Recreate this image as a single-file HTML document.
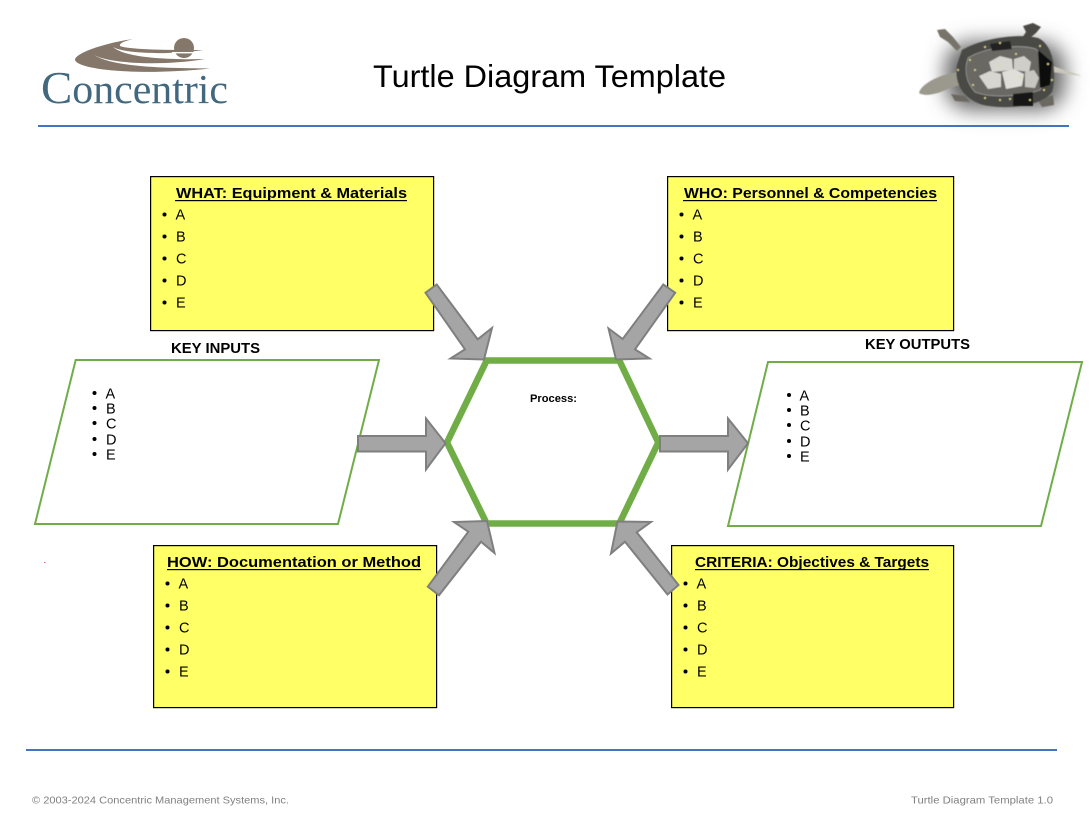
<!DOCTYPE html>
<html lang="en"><head><meta charset="utf-8"><title>Turtle Diagram Template</title>
<style>
html,body{margin:0;padding:0;background:#fff;width:1090px;height:824px;overflow:hidden}
svg{display:block}
text{font-family:"Liberation Sans",sans-serif;fill:#000}
.h{font-weight:bold;font-size:15px}
.l{font-size:14.5px}
.s{font-size:14.5px}
.f{font-size:10.5px;fill:#808080}
.a{fill:#a5a5a5;stroke:#7f7f7f;stroke-width:2}
.y{fill:#ffff66;stroke:#000;stroke-width:1.2}
.p{fill:#fff;stroke:#70ad47;stroke-width:2}
</style></head><body>
<svg width="1090" height="824" viewBox="0 0 1090 824" xmlns="http://www.w3.org/2000/svg">
<defs>
<filter id="b" x="-40%" y="-60%" width="180%" height="220%"><feGaussianBlur stdDeviation="10"/></filter>
<filter id="b1" x="-10%" y="-10%" width="120%" height="120%"><feGaussianBlur stdDeviation="0.6"/></filter>
</defs>

<!-- logo -->
<path d="M133,39 C105,43 75,53 75,60 C78,70 140,76 210,68.5 C170,68 115,68 94,55 C110,64 165,66 205,59 C170,60 125,58 113,47 C125,54 170,55 203,50 C175,50 130,50 120,46 C119,43 125,41 133,39Z" fill="#85786a"/>
<circle cx="184" cy="48" r="10" fill="#85786a"/>
<rect x="172" y="52" width="24" height="1.4" fill="#fff"/>
<text x="41" y="103" font-size="41" textLength="187" lengthAdjust="spacingAndGlyphs" style="font-family:'Liberation Serif',serif;fill:#41687f"><tspan font-size="46" style="fill:#41687f">C</tspan>oncentric</text>

<!-- title -->
<text x="373" y="87" font-size="31.5" textLength="353" lengthAdjust="spacingAndGlyphs">Turtle Diagram Template</text>

<!-- turtle -->
<rect x="945" y="42" width="120" height="68" rx="25" fill="#666" filter="url(#b)"/>
<g filter="url(#b1)">
<path d="M1053,66 L1082,76 L1052,72Z" fill="#c9c5bb"/>
<path d="M937,30 L945,29 L953,37 L961,47 L957,51 L948,42 L940,37Z" fill="#77736a"/>
<path d="M1023,26 L1033,23 L1041,27 L1036,33 L1030,38 L1022,38 L1026,32Z" fill="#4b4945"/>
<path d="M958,72 C938,75 921,84 919,93 C925,97 938,94 950,88 L964,84Z" fill="#9b988d"/>
<path d="M951,94 L965,96 L970,102 L955,101Z" fill="#6b6860"/>
<path d="M1038,100 L1053,95 L1054,105 L1042,107Z" fill="#6b6860"/>
<path d="M962,50 C982,38 1020,33 1038,38 C1056,46 1056,78 1052,92 C1040,108 1000,110 980,104 C962,97 954,82 957,65Z" fill="#4a4845"/>
<path d="M968,58 C985,47 1020,44 1036,49 C1046,60 1046,80 1040,90 C1020,97 990,98 975,92 C966,82 964,70 968,58Z" fill="#6a6864" stroke="#999" stroke-width="0.8"/>
<path d="M1038,50 L1052,62 L1050,85 L1040,88 Z" fill="#111"/>
<path d="M1013,94 L1033,92 L1033,106 L1013,106Z" fill="#141414"/>
<path d="M990,44 L1010,41 L1012,49 L992,51Z" fill="#222"/>
<polygon points="989,62 1000,56 1012,59 1013,70 992,72" fill="#d8d6d0"/>
<polygon points="1014,59 1024,56 1031,62 1029,72 1014,70" fill="#d0cec8"/>
<polygon points="979,76 990,71 1001,74 1001,87 988,89" fill="#d8d6d0"/>
<polygon points="1002,72 1014,69 1024,74 1022,86 1006,89" fill="#e0ded8"/>
<polygon points="1025,72 1034,70 1039,78 1035,88 1025,87" fill="#c8c6c0"/>
<g fill="#e6dc8c">
<circle cx="970" cy="60" r="1"/><circle cx="985" cy="47" r="1"/><circle cx="1000" cy="43" r="1"/><circle cx="1016" cy="54" r="1"/><circle cx="1040" cy="46" r="1"/><circle cx="1048" cy="64" r="1"/><circle cx="1052" cy="80" r="1"/><circle cx="1044" cy="90" r="1"/><circle cx="1000" cy="100" r="1"/><circle cx="985" cy="98" r="1"/><circle cx="973" cy="85" r="1"/><circle cx="958" cy="70" r="1"/><circle cx="1020" cy="77" r="1"/><circle cx="1000" cy="66" r="1"/><circle cx="975" cy="70" r="1"/><circle cx="1030" cy="100" r="1"/><circle cx="1010" cy="99" r="1"/>
</g>
</g>

<!-- rules -->
<rect x="38" y="125" width="1031" height="2" fill="#4472c4"/>
<rect x="26" y="749" width="1031" height="2" fill="#4472c4"/>

<!-- yellow boxes -->
<rect class="y" x="150.6" y="176.6" width="283" height="154"/>
<rect class="y" x="667.6" y="176.6" width="286" height="154"/>
<rect class="y" x="153.6" y="545.6" width="283" height="162"/>
<rect class="y" x="671.6" y="545.6" width="282" height="162"/>

<!-- headings -->
<text class="h" x="176" y="198" textLength="231" lengthAdjust="spacingAndGlyphs">WHAT: Equipment &amp; Materials</text>
<rect x="175" y="200" width="232" height="1.2" fill="#000"/>
<text class="h" x="684" y="198" textLength="253" lengthAdjust="spacingAndGlyphs">WHO: Personnel &amp; Competencies</text>
<rect x="683" y="200" width="254" height="1.2" fill="#000"/>
<text class="h" x="167" y="567" textLength="254" lengthAdjust="spacingAndGlyphs">HOW: Documentation or Method</text>
<rect x="167" y="569" width="254" height="1.2" fill="#000"/>
<text class="h" x="695" y="567" textLength="234" lengthAdjust="spacingAndGlyphs">CRITERIA: Objectives &amp; Targets</text>
<rect x="695" y="569" width="234" height="1.2" fill="#000"/>

<!-- yellow lists -->
<g fill="#000">
<circle cx="164.5" cy="214.5" r="2"/><circle cx="164.5" cy="236.5" r="2"/><circle cx="164.5" cy="258.5" r="2"/><circle cx="164.5" cy="280.5" r="2"/><circle cx="164.5" cy="302.5" r="2"/>
<circle cx="681.5" cy="214.5" r="2"/><circle cx="681.5" cy="236.5" r="2"/><circle cx="681.5" cy="258.5" r="2"/><circle cx="681.5" cy="280.5" r="2"/><circle cx="681.5" cy="302.5" r="2"/>
<circle cx="167.5" cy="583.5" r="2"/><circle cx="167.5" cy="605.5" r="2"/><circle cx="167.5" cy="627.5" r="2"/><circle cx="167.5" cy="649.5" r="2"/><circle cx="167.5" cy="671.5" r="2"/>
<circle cx="685.5" cy="583.5" r="2"/><circle cx="685.5" cy="605.5" r="2"/><circle cx="685.5" cy="627.5" r="2"/><circle cx="685.5" cy="649.5" r="2"/><circle cx="685.5" cy="671.5" r="2"/>
</g>
<g class="l">
<text class="l" x="175.5" y="219.5">A</text><text class="l" x="176" y="241.5">B</text><text class="l" x="176" y="263.5">C</text><text class="l" x="176" y="285.5">D</text><text class="l" x="176" y="307.5">E</text>
<text class="l" x="692.5" y="219.5">A</text><text class="l" x="693" y="241.5">B</text><text class="l" x="693" y="263.5">C</text><text class="l" x="693" y="285.5">D</text><text class="l" x="693" y="307.5">E</text>
<text class="l" x="178.5" y="588.5">A</text><text class="l" x="179" y="610.5">B</text><text class="l" x="179" y="632.5">C</text><text class="l" x="179" y="654.5">D</text><text class="l" x="179" y="676.5">E</text>
<text class="l" x="696.5" y="588.5">A</text><text class="l" x="697" y="610.5">B</text><text class="l" x="697" y="632.5">C</text><text class="l" x="697" y="654.5">D</text><text class="l" x="697" y="676.5">E</text>
</g>

<!-- parallelograms -->
<polygon class="p" points="75.7,360 379,360 338,524 35,524"/>
<polygon class="p" points="768,362 1082,362 1041,526 728,526"/>

<text class="h" x="171" y="353" textLength="89" lengthAdjust="spacingAndGlyphs">KEY INPUTS</text>
<text class="h" x="865" y="349" textLength="105" lengthAdjust="spacingAndGlyphs">KEY OUTPUTS</text>

<g fill="#000">
<circle cx="94.5" cy="393" r="2"/><circle cx="94.5" cy="408" r="2"/><circle cx="94.5" cy="423" r="2"/><circle cx="94.5" cy="439" r="2"/><circle cx="94.5" cy="454" r="2"/>
<circle cx="789" cy="395" r="2"/><circle cx="789" cy="410" r="2"/><circle cx="789" cy="425" r="2"/><circle cx="789" cy="441" r="2"/><circle cx="789" cy="456" r="2"/>
</g>
<text class="s" x="105.5" y="398.5">A</text><text class="s" x="106" y="413.5">B</text><text class="s" x="106" y="428.5">C</text><text class="s" x="106" y="444.5">D</text><text class="s" x="106" y="459.5">E</text>
<text class="s" x="799.5" y="400.5">A</text><text class="s" x="800" y="415.5">B</text><text class="s" x="800" y="430.5">C</text><text class="s" x="800" y="446.5">D</text><text class="s" x="800" y="461.5">E</text>

<!-- hexagon -->
<polygon points="486.7,360.5 619.3,360.5 658.3,442.5 619.3,523.5 486.7,523.5 447,442.5" fill="none" stroke="#70ad47" stroke-width="6.5" stroke-linejoin="miter"/>
<text x="530" y="402" font-size="10.8" font-weight="bold" textLength="47" lengthAdjust="spacingAndGlyphs">Process:</text>

<!-- arrows -->
<polygon class="a" points="436.7,284.5 477.7,339.3 492,328 484,359.5 450.5,358.5 465,349.3 425.5,292.7"/>
<polygon class="a" points="663.3,284.5 622.7,339 608.5,328.5 616,359.5 649.5,358.5 635,349.3 675.2,292.7"/>
<polygon class="a" points="427.8,586.7 468.3,531.7 454,522 487,521 494.5,553 481,541.7 439,595.2"/>
<polygon class="a" points="678.5,585 636.7,532.3 651,522 617.5,521.5 611,553.5 625,541.7 667.5,594.5"/>
<polygon class="a" points="358,436 426,436 426,418.5 445.5,443.3 426,469.5 426,451.5 358,451.5"/>
<polygon class="a" points="660,436 728,436 728,418.5 748,443.3 728,469.5 728,451.5 660,451.5"/>

<rect x="44" y="562" width="1.5" height="1" fill="#f06070"/>

<!-- footer -->
<text class="f" x="32" y="803.5" textLength="257" lengthAdjust="spacingAndGlyphs">© 2003-2024 Concentric Management Systems, Inc.</text>
<text class="f" x="911" y="803.5" textLength="142" lengthAdjust="spacingAndGlyphs">Turtle Diagram Template 1.0</text>
</svg>
</body></html>
